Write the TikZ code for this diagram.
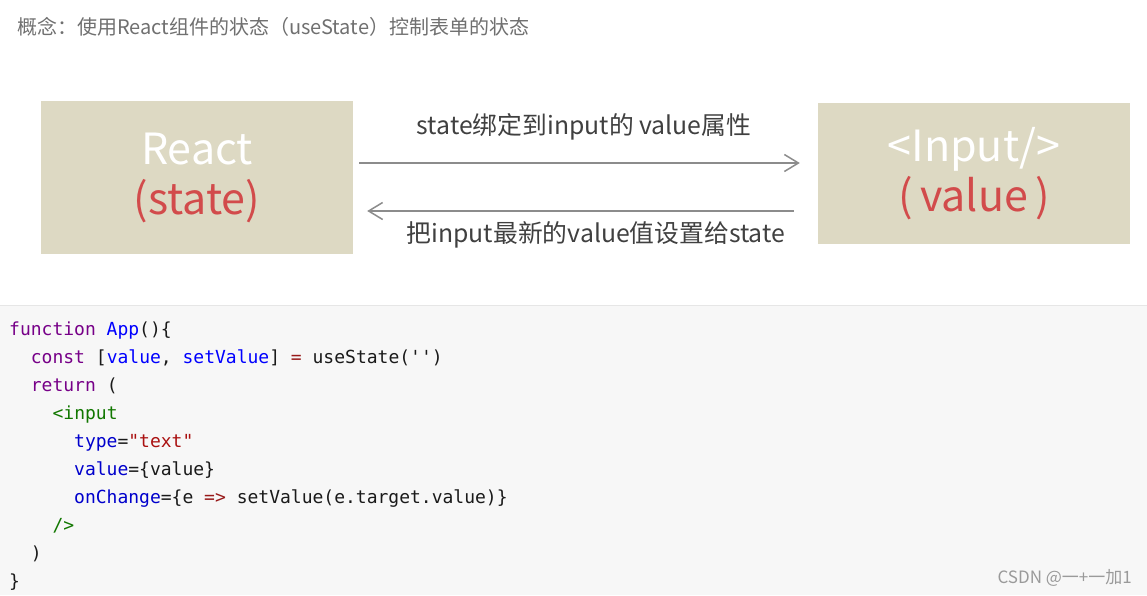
\documentclass[tikz,border=0pt]{standalone}
\usepackage{fontspec}
\setmainfont{Noto Sans CJK SC}
\setmonofont{DejaVu Sans Mono}
\usetikzlibrary{arrows.meta,positioning}

\definecolor{boxfill}{HTML}{DDD9C3}
\definecolor{statered}{HTML}{D24B4B}
\definecolor{titlegray}{HTML}{707070}
\definecolor{arrowgray}{HTML}{8C8C8C}
\definecolor{labelgray}{HTML}{404040}
\definecolor{codebg}{HTML}{F7F7F7}
\definecolor{codeborder}{HTML}{E6E6E6}
\definecolor{wmgray}{HTML}{9A9A9A}
\definecolor{kw}{HTML}{770088}
\definecolor{df}{HTML}{0000FF}
\definecolor{op}{HTML}{981A1A}
\definecolor{str}{HTML}{AA1111}
\definecolor{tag}{HTML}{117700}
\definecolor{attr}{HTML}{0000CC}
\definecolor{codetext}{HTML}{1A1A1A}

\tikzset{
  blockbox/.style={fill=boxfill, minimum width=312pt, inner sep=0pt, align=center,
    font=\fontsize{43}{50}\selectfont},
  flow/.style={draw=arrowgray, line width=1.5pt,
    -{Straight Barb[length=14pt,width=17pt,line width=1.5pt]}},
  flowlabel/.style={text=labelgray, inner sep=0pt, font=\fontsize{24.8}{28}\selectfont},
  codeline/.style={anchor=base west, inner sep=0pt, text=codetext,
    font=\ttfamily\fontsize{18}{20}\selectfont},
}

\begin{document}
\begin{tikzpicture}[x=1pt, y=-1pt]
    \useasboundingbox (0,0) rectangle (1147,595);
    \fill[white] (0,0) rectangle (1147,595);

    \node[anchor=west, inner sep=0pt, text=titlegray, font=\fontsize{20}{22}\selectfont] (title) at (17,27)
        {概念：使用React组件的状态（useState）控制表单的状态};

    % the two blocks
    \node[blockbox, minimum height=153pt] (react) at (197,177.5)
        {\textcolor{white}{React}\\\textcolor{statered}{(state)}};
    \node[blockbox, minimum height=141pt] (input) at (974,173.5)
        {\textcolor{white}{<Input/>}\\\textcolor{statered}{(\,value\,)}};

    \draw[flow] ([shift={(6,-14.5)}]react.east) -- ([shift={(-18,-10.5)}]input.west);
    \draw[flow] ([shift={(-24,37.5)}]input.west) -- ([shift={(14,33.5)}]react.east);
    \node[flowlabel] (bindtxt) at (584,127) {state绑定到input的 value属性};
    \node[flowlabel] (settxt) at (596,235) {把input最新的value值设置给state};

    % code block
    \fill[codebg] (0,305) rectangle (1147,595);
    \draw[codeborder, line width=1pt] (0,305.5) -- (1147,305.5);

    \node[codeline] (l1) at (9,335) {\textcolor{kw}{function} \textcolor{df}{App}()\{};
    \node[codeline] (l2) at (30.7,363) {\textcolor{kw}{const} [\textcolor{df}{value}, \textcolor{df}{setValue}] \textcolor{op}{=} useState('')};
    \node[codeline] (l3) at (30.7,391) {\textcolor{kw}{return} (};
    \node[codeline] (l4) at (52.4,419) {\textcolor{tag}{<input}};
    \node[codeline] (l5) at (74,447) {\textcolor{attr}{type}=\textcolor{str}{"text"}};
    \node[codeline] (l6) at (74,475) {\textcolor{attr}{value}=\{value\}};
    \node[codeline] (l7) at (74,503) {\textcolor{attr}{onChange}=\{e \textcolor{op}{=>} setValue(e.target.value)\}};
    \node[codeline] (l8) at (52.4,531) {\textcolor{tag}{/>}};
    \node[codeline] (l9) at (30.7,559) {)};
    \node[codeline] (l10) at (9,587) {\}};

    \node[anchor=east, inner sep=0pt, text=wmgray, font=\fontsize{17}{20}\selectfont] (mark) at (1132,578)
        {CSDN @一+一加1};
\end{tikzpicture}
\end{document}
